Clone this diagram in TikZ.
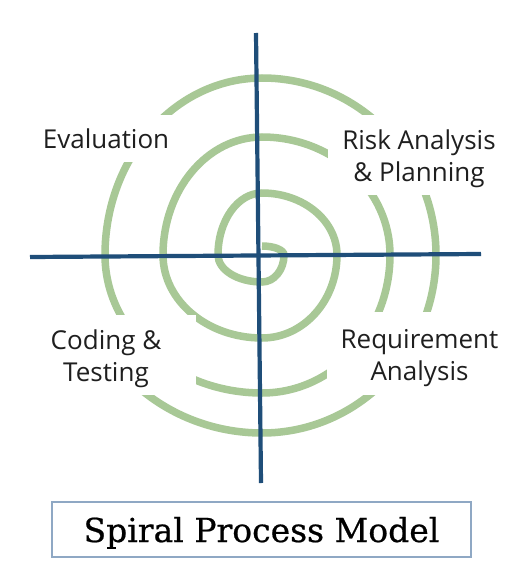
\documentclass[tikz,border=0pt]{standalone}
\usepackage{fontspec}
\newfontfamily\labelfont{Open Sans}
\newfontfamily\titlefont[FakeBold=0.6]{DejaVu Serif}
\definecolor{axisblue}{RGB}{31,78,121}
\definecolor{spiralgreen}{RGB}{168,200,150}
\definecolor{boxline}{RGB}{143,168,196}
\tikzset{
  spiral/.style={draw=spiralgreen, line width=7.5pt, line cap=butt},
  axis/.style={draw=axisblue, line width=4.2pt},
  label/.style={font=\labelfont\fontsize{26}{32}\selectfont, align=center, inner sep=0pt, anchor=base, text=black!88},
  titlebox/.style={draw=boxline, line width=1.2pt, fill=white, minimum width=419pt, minimum height=55pt,
    inner sep=0pt, text height=25pt, text depth=0pt, font=\titlefont\fontsize{33}{36}\selectfont}
}
\begin{document}
\begin{tikzpicture}[x=1pt,y=-1pt]
\useasboundingbox (0,0) rectangle (520,583);
\fill[white] (0,0) rectangle (520,583);
% spiral
\draw[spiral] (262,246)
  arc[start angle=-90, end angle=0,   x radius=22,  y radius=9]
  arc[start angle=0,   end angle=90,  x radius=22,  y radius=27]
  arc[start angle=90,  end angle=180, x radius=44,  y radius=27]
  arc[start angle=180, end angle=270, x radius=44,  y radius=62]
  arc[start angle=270, end angle=360, x radius=75,  y radius=62]
  arc[start angle=0,   end angle=90,  x radius=75,  y radius=83]
  arc[start angle=90,  end angle=180, x radius=99,  y radius=83]
  arc[start angle=180, end angle=270, x radius=99,  y radius=118]
  arc[start angle=270, end angle=360, x radius=128, y radius=118]
  arc[start angle=0,   end angle=90,  x radius=128, y radius=138]
  arc[start angle=90,  end angle=180, x radius=157, y radius=138]
  arc[start angle=180, end angle=270, x radius=157, y radius=177]
  arc[start angle=270, end angle=360, x radius=174, y radius=177]
  arc[start angle=0,   end angle=90,  x radius=174, y radius=178]
  arc[start angle=90,  end angle=135, x radius=185, y radius=178];
% gaps behind the labels
\fill[white] (25,115) rectangle (178,162);
\fill[white] (328,115) rectangle (505,195);
\fill[white] (40,315) rectangle (196,395);
\fill[white] (327,312) rectangle (505,395);
% axes
\coordinate (vt) at (256,33);
\coordinate (vb) at (261,483);
\coordinate (hl) at (30,257);
\coordinate (hr) at (481,254);
\draw[axis] (vt) -- (vb);
\draw[axis] (hl) -- (hr);
% labels (anchor base = baseline of the last line)
\node[label] (eval) at (106,148) {Evaluation};
\node[label] (risk) at (419,181) {Risk Analysis\\\& Planning};
\node[label] (code) at (106,381) {Coding \&\\Testing};
\node[label] (req) at (419.5,380) {Requirement\\Analysis};
% title
\node[titlebox] (title) at (261.5,529.5) {Spiral Process Model};
\end{tikzpicture}
\end{document}
